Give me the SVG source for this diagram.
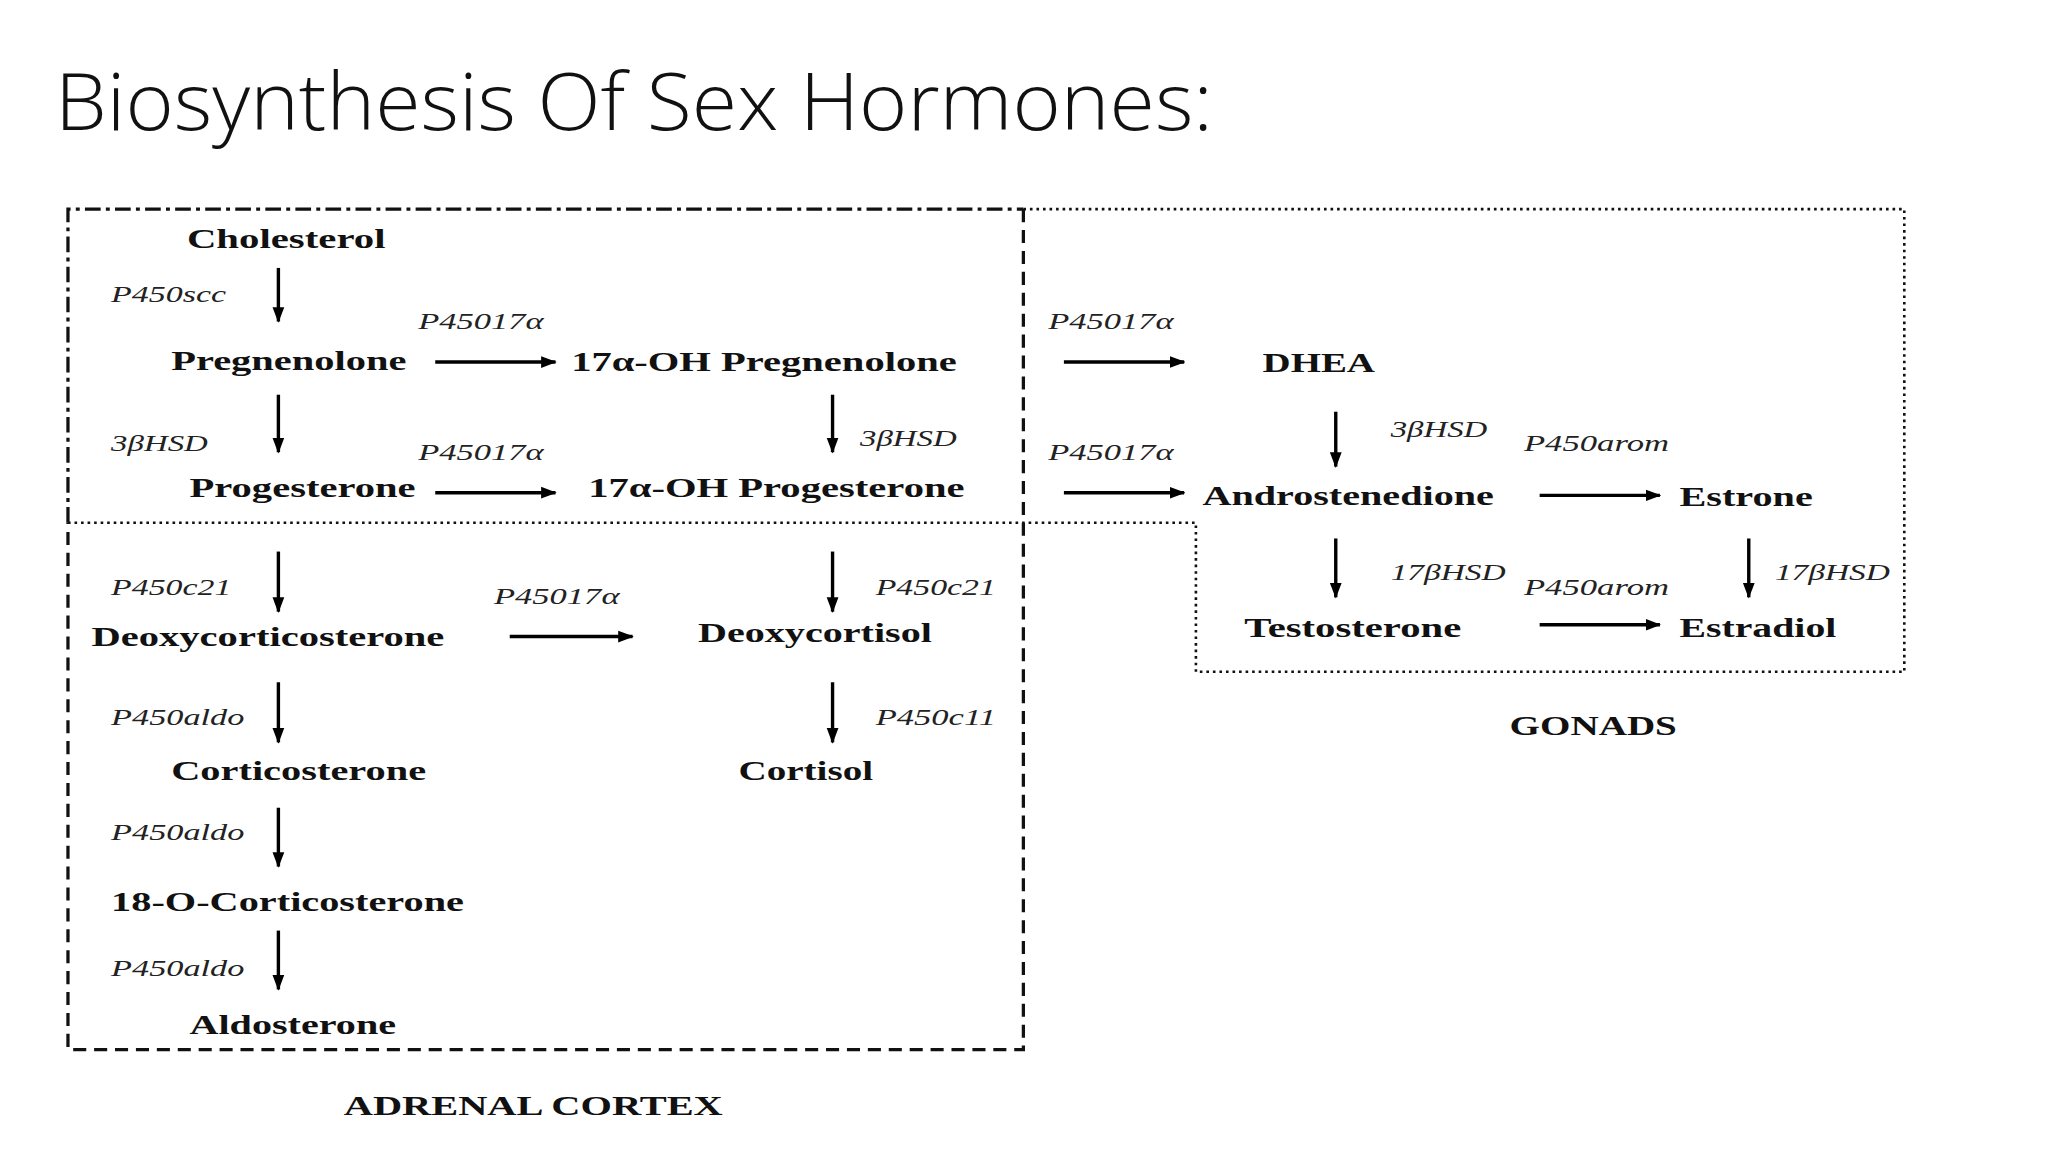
<svg xmlns="http://www.w3.org/2000/svg" width="2048" height="1152" viewBox="0 0 2048 1152">
<defs>
<marker id="ah" viewBox="0 0 12 10" refX="11" refY="5" markerWidth="12" markerHeight="10" markerUnits="userSpaceOnUse" orient="auto"><path d="M0,0.5 L12,5 L0,9.5 Z" fill="#000"/></marker>
<style>
.n{font-family:"Liberation Serif",serif;font-weight:bold;font-size:21px;fill:#111}
.e{font-family:"Liberation Serif",serif;font-style:italic;font-size:18px;fill:#222}
.a{stroke:#000;stroke-width:2.6;fill:none;marker-end:url(#ah)}
.dd{stroke:#111;stroke-width:2.5;fill:none;stroke-dasharray:12 4 3 4}
.ds{stroke:#111;stroke-width:2.5;fill:none;stroke-dasharray:10 6}
.dt{stroke:#111;stroke-width:2;fill:none;stroke-dasharray:2 3}
</style>
</defs>
<rect width="2048" height="1152" fill="#fff"/>
<text x="55" y="130" font-family="'Open Sans',sans-serif" font-weight="300" font-size="80" textLength="1158" lengthAdjust="spacingAndGlyphs" fill="#111">Biosynthesis Of Sex Hormones:</text>
<g transform="scale(1.307)">
<g id="borders">
<path class="dd" d="M52,400 V160 H783"/>
<path class="ds" d="M783,160 V803 H52 V400"/>
<path class="dt" d="M52,400 H915 V514 H1457 V160 H783"/>
</g>
<g id="connectors">
<line class="a" x1="213" y1="205" x2="213" y2="246"/>
<line class="a" x1="333" y1="277" x2="425" y2="277"/>
<line class="a" x1="213" y1="302" x2="213" y2="346"/>
<line class="a" x1="637" y1="302" x2="637" y2="346"/>
<line class="a" x1="333" y1="377" x2="425" y2="377"/>
<line class="a" x1="814" y1="277" x2="906" y2="277"/>
<line class="a" x1="814" y1="377" x2="906" y2="377"/>
<line class="a" x1="1022" y1="315" x2="1022" y2="357"/>
<line class="a" x1="1178" y1="379" x2="1270" y2="379"/>
<line class="a" x1="1022" y1="412" x2="1022" y2="457"/>
<line class="a" x1="1178" y1="478" x2="1270" y2="478"/>
<line class="a" x1="1338" y1="412" x2="1338" y2="457"/>
<line class="a" x1="213" y1="422" x2="213" y2="468"/>
<line class="a" x1="390" y1="487" x2="484" y2="487"/>
<line class="a" x1="637" y1="422" x2="637" y2="468"/>
<line class="a" x1="213" y1="522" x2="213" y2="568"/>
<line class="a" x1="637" y1="522" x2="637" y2="568"/>
<line class="a" x1="213" y1="618" x2="213" y2="663"/>
<line class="a" x1="213" y1="712" x2="213" y2="757"/>
</g>
<g id="enzymes">
<text class="e" x="85" y="231" textLength="88" lengthAdjust="spacingAndGlyphs">P450scc</text>
<text class="e" x="320" y="252" textLength="96" lengthAdjust="spacingAndGlyphs">P45017α</text>
<text class="e" x="85" y="345" textLength="74" lengthAdjust="spacingAndGlyphs">3βHSD</text>
<text class="e" x="658" y="341" textLength="74" lengthAdjust="spacingAndGlyphs">3βHSD</text>
<text class="e" x="320" y="352" textLength="96" lengthAdjust="spacingAndGlyphs">P45017α</text>
<text class="e" x="802" y="252" textLength="96" lengthAdjust="spacingAndGlyphs">P45017α</text>
<text class="e" x="802" y="352" textLength="96" lengthAdjust="spacingAndGlyphs">P45017α</text>
<text class="e" x="1064" y="334" textLength="74" lengthAdjust="spacingAndGlyphs">3βHSD</text>
<text class="e" x="1166" y="345" textLength="111" lengthAdjust="spacingAndGlyphs">P450arom</text>
<text class="e" x="1064" y="444" textLength="88" lengthAdjust="spacingAndGlyphs">17βHSD</text>
<text class="e" x="1166" y="455" textLength="111" lengthAdjust="spacingAndGlyphs">P450arom</text>
<text class="e" x="1358" y="444" textLength="88" lengthAdjust="spacingAndGlyphs">17βHSD</text>
<text class="e" x="85" y="455" textLength="92" lengthAdjust="spacingAndGlyphs">P450c21</text>
<text class="e" x="378" y="462" textLength="96" lengthAdjust="spacingAndGlyphs">P45017α</text>
<text class="e" x="670" y="455" textLength="92" lengthAdjust="spacingAndGlyphs">P450c21</text>
<text class="e" x="85" y="555" textLength="102" lengthAdjust="spacingAndGlyphs">P450aldo</text>
<text class="e" x="670" y="555" textLength="92" lengthAdjust="spacingAndGlyphs">P450c11</text>
<text class="e" x="85" y="643" textLength="102" lengthAdjust="spacingAndGlyphs">P450aldo</text>
<text class="e" x="85" y="747" textLength="102" lengthAdjust="spacingAndGlyphs">P450aldo</text>
</g>
<g id="n-cholesterol"><text class="n" x="143" y="190" textLength="152" lengthAdjust="spacingAndGlyphs">Cholesterol</text></g>
<g id="n-pregnenolone"><text class="n" x="131" y="283" textLength="180" lengthAdjust="spacingAndGlyphs">Pregnenolone</text></g>
<g id="n-17oh-preg"><text class="n" x="437" y="284" textLength="295" lengthAdjust="spacingAndGlyphs">17α-OH Pregnenolone</text></g>
<g id="n-progesterone"><text class="n" x="145" y="380" textLength="173" lengthAdjust="spacingAndGlyphs">Progesterone</text></g>
<g id="n-17oh-prog"><text class="n" x="450" y="380" textLength="288" lengthAdjust="spacingAndGlyphs">17α-OH Progesterone</text></g>
<g id="n-dhea"><text class="n" x="966" y="285" textLength="86" lengthAdjust="spacingAndGlyphs">DHEA</text></g>
<g id="n-androstenedione"><text class="n" x="920" y="386" textLength="223" lengthAdjust="spacingAndGlyphs">Androstenedione</text></g>
<g id="n-estrone"><text class="n" x="1285" y="387" textLength="102" lengthAdjust="spacingAndGlyphs">Estrone</text></g>
<g id="n-testosterone"><text class="n" x="952" y="487" textLength="166" lengthAdjust="spacingAndGlyphs">Testosterone</text></g>
<g id="n-estradiol"><text class="n" x="1285" y="487" textLength="120" lengthAdjust="spacingAndGlyphs">Estradiol</text></g>
<g id="n-doc"><text class="n" x="70" y="494" textLength="270" lengthAdjust="spacingAndGlyphs">Deoxycorticosterone</text></g>
<g id="n-deoxycortisol"><text class="n" x="534" y="491" textLength="179" lengthAdjust="spacingAndGlyphs">Deoxycortisol</text></g>
<g id="n-corticosterone"><text class="n" x="131" y="597" textLength="195" lengthAdjust="spacingAndGlyphs">Corticosterone</text></g>
<g id="n-cortisol"><text class="n" x="565" y="597" textLength="103" lengthAdjust="spacingAndGlyphs">Cortisol</text></g>
<g id="n-18o"><text class="n" x="85" y="697" textLength="270" lengthAdjust="spacingAndGlyphs">18-O-Corticosterone</text></g>
<g id="n-aldosterone"><text class="n" x="145" y="791" textLength="158" lengthAdjust="spacingAndGlyphs">Aldosterone</text></g>
<g id="labels">
<text class="n" x="1155" y="562" textLength="128" lengthAdjust="spacingAndGlyphs">GONADS</text>
<text class="n" x="263" y="853" textLength="290" lengthAdjust="spacingAndGlyphs">ADRENAL CORTEX</text>
</g>
</g>
</svg>
